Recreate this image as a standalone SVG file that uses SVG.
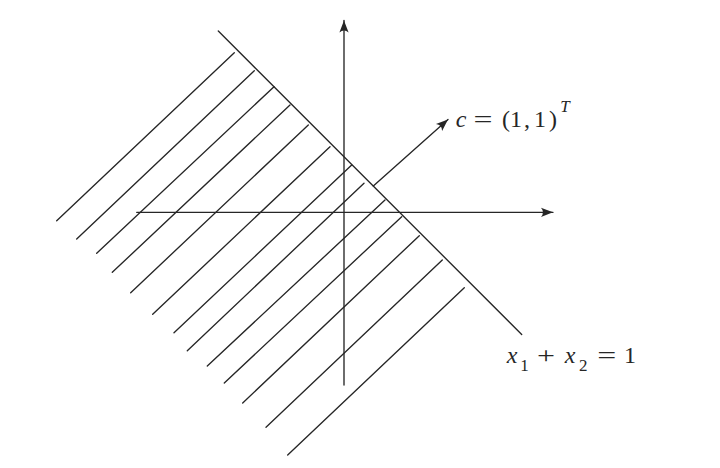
<svg xmlns="http://www.w3.org/2000/svg" width="720" height="468" viewBox="0 0 720 468">
<style>
.ln{stroke:#262626;stroke-width:1.35;fill:none;stroke-linecap:round}
.tx{font-family:"Liberation Serif","Times New Roman",serif;font-size:24px;fill:#262626}
.it{font-style:italic}
.sub{font-size:17px}
</style>
<defs>
<marker id="arr" markerUnits="userSpaceOnUse" markerWidth="16" markerHeight="12" viewBox="-14 -6 16 12" refX="0" refY="0" orient="auto">
<path d="M0,0 L-12,-4.6 Q-8,0 -12,4.6 Z" fill="#262626"/>
</marker>
</defs>
<rect width="720" height="468" fill="#fff"/>
<g id="hatching" class="ln">
<line x1="56.7" y1="220.7" x2="234.3" y2="52.7"/>
<line x1="76.7" y1="239" x2="254.3" y2="70.7"/>
<line x1="96.7" y1="253.3" x2="274" y2="86.7"/>
<line x1="112.3" y1="272.3" x2="290" y2="105"/>
<line x1="130.7" y1="292.7" x2="308.3" y2="125"/>
<line x1="152.7" y1="314.3" x2="330" y2="146.7"/>
<line x1="174" y1="332.7" x2="351.7" y2="165"/>
<line x1="187.3" y1="350.7" x2="364" y2="183.3"/>
<line x1="207.3" y1="366" x2="385" y2="200"/>
<line x1="224.3" y1="383" x2="401.7" y2="216.7"/>
<line x1="242.7" y1="403" x2="419.3" y2="235.7"/>
<line x1="266" y1="427.3" x2="442.3" y2="260"/>
<line x1="287.7" y1="455" x2="464.3" y2="287.7"/>
</g>
<g id="constraint" class="ln">
<line x1="218.3" y1="31" x2="521.7" y2="334.5"/>
</g>
<g id="connectors" class="ln">
<line id="x2-axis" x1="344" y1="385" x2="344" y2="20.5" marker-end="url(#arr)"/>
<line id="x1-axis" x1="136.7" y1="212.3" x2="553" y2="212.3" marker-end="url(#arr)"/>
<line id="c-vector" x1="373.3" y1="186" x2="448" y2="119.5" marker-end="url(#arr)"/>
</g>
<g id="label-c" class="tx">
<text x="461" y="127.3" text-anchor="middle" class="it">c</text>
<text x="483" y="127.3" text-anchor="middle" textLength="19" lengthAdjust="spacingAndGlyphs">=</text>
<text x="506" y="127.3" text-anchor="middle">(</text>
<text x="516" y="127.3" text-anchor="middle">1</text>
<text x="527" y="127.3" text-anchor="middle">,</text>
<text x="540" y="127.3" text-anchor="middle">1</text>
<text x="553" y="127.3" text-anchor="middle">)</text>
<text x="565" y="112" text-anchor="middle" class="it sub">T</text>
</g>
<g id="label-constraint" class="tx">
<text x="512" y="362.7" text-anchor="middle" class="it">x</text>
<text x="524.5" y="370.5" text-anchor="middle" class="sub">1</text>
<text x="546" y="362.7" text-anchor="middle" textLength="18" lengthAdjust="spacingAndGlyphs">+</text>
<text x="570" y="362.7" text-anchor="middle" class="it">x</text>
<text x="583.2" y="370.5" text-anchor="middle" class="sub">2</text>
<text x="606.7" y="362.7" text-anchor="middle" textLength="19" lengthAdjust="spacingAndGlyphs">=</text>
<text x="630" y="362.7" text-anchor="middle">1</text>
</g>
</svg>
